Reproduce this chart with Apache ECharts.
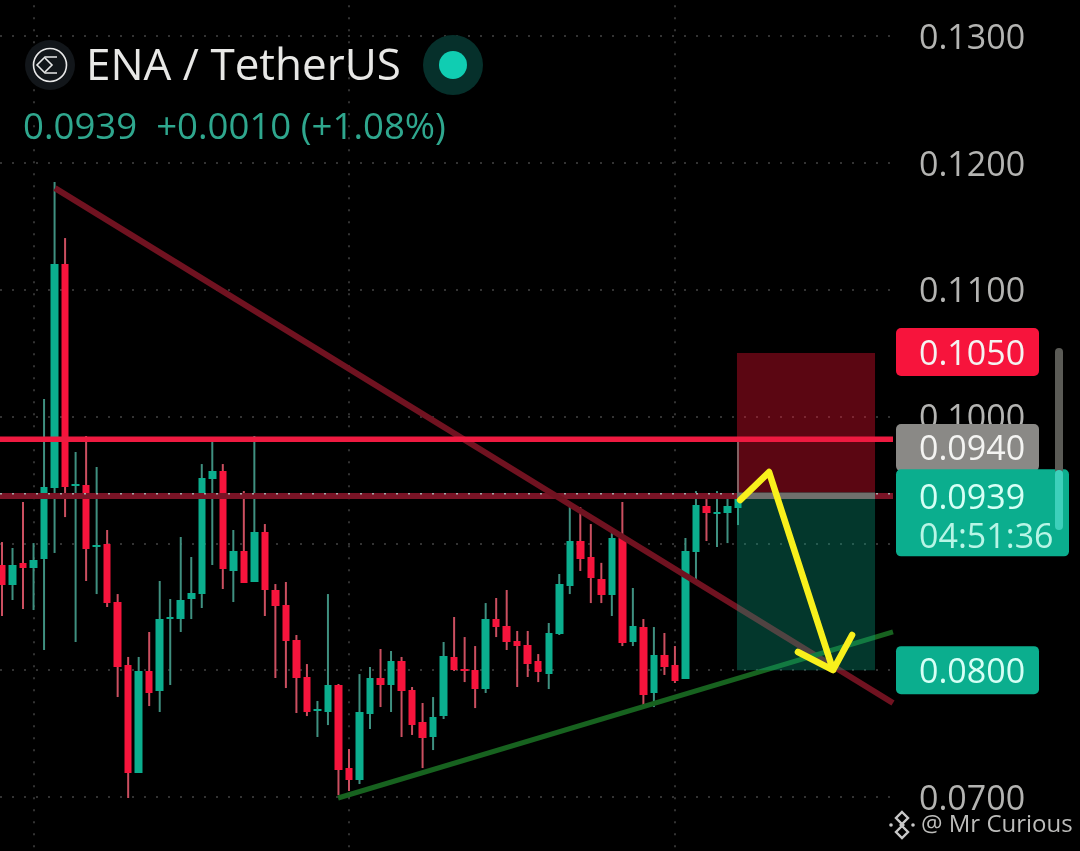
<!DOCTYPE html>
<html>
<head>
<meta charset="utf-8">
<style>html,body{margin:0;padding:0;background:#000}#c{width:1080px;height:851px}</style>
<script src="https://cdn.jsdelivr.net/npm/echarts@6/dist/echarts.min.js"></script>
</head>
<body>
<div id="c"></div>
<script>
const opens  = [.08829,.08671,.08845,.08805,.08876,.09436,.11202,.09452,.09460,.08971,.08995,.08537,.08040,.07189,.07993,.07835,.08403,.08403,.08561,.08600,.09507,.09570,.08782,.08939,.08695,.09089,.08632,.08513,.08238,.07946,.07678,.07670,.07883,.07228,.07134,.07654,.07938,.07883,.08072,.07843,.07591,.07473,.07638,.08104,.08009,.08001,.07851,.08403,.08348,.08230,.08198,.08072,.07969,.08285,.08663,.09018,.08892,.08718,.08592,.09042,.08222,.08340,.07820,.08119,.08040,.07930,.08931,.09294,.09231,.09239,.09278];
const closes = [.08671,.08829,.08805,.08868,.09444,.11202,.09444,.09468,.08955,.08987,.08529,.08025,.07189,.07993,.07820,.08403,.08419,.08553,.08608,.09515,.09570,.08797,.08939,.08687,.09089,.08632,.08506,.08230,.07938,.07670,.07693,.07883,.07213,.07134,.07670,.07938,.07883,.08072,.07835,.07567,.07465,.07630,.08111,.08001,.07993,.07851,.08403,.08340,.08222,.08190,.08048,.07985,.08293,.08679,.09018,.08876,.08726,.08592,.09042,.08214,.08348,.07804,.08119,.08025,.07914,.08939,.09302,.09239,.09247,.09294,.09397];
const lows   = [.08427,.08553,.08482,.08474,.08159,.08924,.09207,.08222,.08703,.08600,.08498,.07788,.06992,.07189,.07717,.07670,.07883,.08301,.08403,.08490,.08829,.08640,.08537,.08687,.08695,.08427,.07938,.07859,.07662,.07638,.07473,.07567,.07015,.07047,.07102,.07536,.07709,.07670,.07473,.07489,.07228,.07370,.07615,.07993,.07906,.07701,.07820,.08261,.08159,.07867,.07946,.07906,.07851,.08277,.08600,.08782,.08529,.08529,.08427,.08190,.08190,.07701,.07709,.07962,.07899,.07930,.08695,.09018,.08971,.09002,.09144];
const highs  = [.09010,.08963,.09326,.09002,.10138,.11849,.11407,.09720,.09846,.09602,.09105,.08600,.08104,.08104,.08301,.08703,.08561,.09050,.08892,.09625,.09838,.09625,.09105,.09412,.09846,.09152,.08679,.08695,.08277,.08048,.07757,.08600,.07891,.07378,.07969,.08025,.08167,.08151,.08104,.07867,.07741,.07788,.08222,.08419,.08261,.08190,.08529,.08569,.08632,.08309,.08309,.08127,.08372,.08758,.09302,.09286,.09152,.08846,.09105,.09326,.08648,.08403,.08340,.08293,.08190,.09042,.09412,.09349,.09412,.09397,.09815];
const candles = opens.map((o,i)=>[i,o,closes[i],lows[i],highs[i]]);

const xMin = -0.19, xMax = 84.74;
const monthTicks = [3,33,64];
const resistanceLine = [[xMin,.0982],[xMax,.0982]];
const priceBand  = [[xMin,.09373],[xMax,.09373]];
const priceDots  = [[xMin,.0939],[xMax,.0939]];
const bearTrend  = [[5.04,.11801],[xMax,.07741]];
const bullTrend  = [[31.96,.06992],[xMax,.08301]];
const arrowPath  = [[70.2,.09341],[72.95,.09562],[79.04,.08001],[75.7,.08143],[79.04,.08001],[80.85,.08277]];
const zones = [[69.9,83.03,.1050,.0940],[69.9,83.03,.0940,.0935],[69.9,83.03,.0935,.0800]];
const zoneFill = ['rgba(247,16,50,0.37)','#6f6f6c','rgba(10,176,143,0.31)'];
const tagPrices = [.1050,.0940,.0939,.0800];
const tagLabels = ['0.1050','0.0940','0.0939','0.0800'];
const tagFill = ['#f7143c','#8a8986','#0bae8e','#0bae8e'];
const tagShift = [-1,-45,19,0];
const tagW = [143,143,173,143];
const tagH = [48,47,87,48];
const countdown = '04:51:36';

const UP='#0bae8e', DOWN='#f7143c', UPW='#3f9080', DOWNW='#cb4f60';
const font='"Open Sans"';
const chart = echarts.init(document.getElementById('c'),null,{renderer:'canvas'});
const lineS=(data,color,width,z,extra)=>Object.assign({type:'line',data,showSymbol:false,symbol:'none',silent:true,z,animation:false,
  lineStyle:Object.assign({color,width},extra||{})});

chart.setOption({
  backgroundColor:'#000',
  animation:false,
  title:[
    {text:'ENA / TetherUS',left:81,top:40,textStyle:{color:'#e8e8e6',fontFamily:font,fontWeight:400,fontSize:44}},
    {text:'0.0939  +0.0010 (+1.08%)',left:18,top:105,textStyle:{color:'#2fa78e',fontFamily:font,fontWeight:400,fontSize:36.6}}
  ],
  grid:{left:0,width:893,top:-90.8,height:1014.6,containLabel:false,outerBoundsMode:'none'},
  xAxis:{type:'value',min:xMin,max:xMax,
    axisLine:{show:false},axisLabel:{show:false},
    axisTick:{show:false,customValues:monthTicks},
    splitLine:{show:true,lineStyle:{color:'#444',type:[2,10],width:1.5}}},
  yAxis:{type:'value',position:'right',min:.06,max:.14,interval:.01,
    axisLine:{show:false},axisTick:{show:false},
    axisLabel:{color:'#b4b4b2',fontFamily:font,fontSize:34,margin:26,verticalAlign:'top',lineHeight:6,formatter:v=>v.toFixed(4)},
    splitLine:{show:true,lineStyle:{color:'#444',type:[2,10],width:1.5}}},
  graphic:[
    {type:'circle',shape:{cx:50,cy:65,r:25},style:{fill:'#12161a'},z:20},
    {type:'circle',shape:{cx:50,cy:65,r:16.5},style:{fill:'none',stroke:'#e8e8e8',lineWidth:1.6},z:21},
    {type:'polyline',shape:{points:[[57,57],[45,57],[37,65],[45,73],[57,73]]},style:{fill:'none',stroke:'#e8e8e8',lineWidth:1.6},z:21},
    {type:'polyline',shape:{points:[[45,58],[52,65],[45,72]]},style:{fill:'none',stroke:'#e8e8e8',lineWidth:1.6},z:21},
    {type:'circle',shape:{cx:453,cy:65,r:30},style:{fill:'#06302b'},z:20},
    {type:'circle',shape:{cx:453,cy:65,r:14},style:{fill:'#10cdb2'},z:21},
    {type:'rect',shape:{x:1055,y:348,width:8,height:125,r:4},style:{fill:'#5b5b56'},z:30},
    {type:'rect',shape:{x:1055,y:470,width:8,height:60,r:4},style:{fill:'#3dd0bb'},z:31},
    {type:'polygon',shape:{points:[[902,812],[908,818],[902,824],[896,818]]},style:{fill:'none',stroke:'#c8c8c8',lineWidth:2.4},z:30},
    {type:'polygon',shape:{points:[[902,826],[908,832],[902,838],[896,832]]},style:{fill:'none',stroke:'#c8c8c8',lineWidth:2.4},z:30},
    {type:'polygon',shape:{points:[[902,822],[905,825],[902,828],[899,825]]},style:{fill:'#c8c8c8'},z:30},
    {type:'circle',shape:{cx:891,cy:825,r:1.8},style:{fill:'#c8c8c8'},z:30},
    {type:'circle',shape:{cx:913,cy:825,r:1.8},style:{fill:'#c8c8c8'},z:30},
    {type:'text',x:921,y:825,style:{text:'@ Mr Curious',fill:'#bdbdbb',font:'24px '+font,verticalAlign:'middle'},z:30}
  ],
  series:[
    {type:'custom',name:'wicks',data:candles,z:2,silent:true,clip:true,encode:{x:0,y:[1,2,3,4]},
      renderItem(p,api){
        const i=api.value(0),o=api.value(1),c=api.value(2),l=api.value(3),h=api.value(4);
        const stroke=c>o?UPW:DOWNW, top=api.coord([i,Math.max(o,c)]), bot=api.coord([i,Math.min(o,c)]);
        const hi=api.coord([i,h]), lo=api.coord([i,l]);
        return {type:'group',children:[
          {type:'line',shape:{x1:hi[0],y1:hi[1],x2:top[0],y2:top[1]},style:{stroke,lineWidth:2}},
          {type:'line',shape:{x1:bot[0],y1:bot[1],x2:lo[0],y2:lo[1]},style:{stroke,lineWidth:2}}
        ]};
      }},
    {type:'candlestick',name:'body',data:candles,barWidth:8,z:3,silent:true,
      itemStyle:{color:UP,color0:DOWN,borderWidth:0,borderColor:'transparent',borderColor0:'transparent'}},
    lineS(priceBand,'#7a1426',6,4),
    lineS(priceDots,'#a8a8a8',1.5,5,{type:[2,10]}),
    lineS(bearTrend,'#701220',6,6),
    lineS(bullTrend,'#17621f',5,6),
    {type:'custom',name:'zones',data:zones,z:7,silent:true,clip:true,encode:{x:[0,1],y:[2,3]},
      renderItem(p,api){
        const a=api.coord([api.value(0),api.value(2)]),b=api.coord([api.value(1),api.value(3)]);
        return {type:'rect',shape:{x:a[0],y:a[1],width:b[0]-a[0],height:b[1]-a[1]},style:{fill:zoneFill[p.dataIndex]}};
      }},
    lineS(resistanceLine,'#ee1a40',5.5,8),
    lineS(arrowPath,'#f8f01c',6.5,9,{join:'round',cap:'round'}),
    {type:'custom',name:'tags',data:tagPrices.map(v=>[xMin,v]),z:10,silent:true,clip:false,encode:{x:0,y:1},
      renderItem(p,api){
        const i=p.dataIndex, cy=api.coord([api.value(0),api.value(1)])[1]+tagShift[i];
        const kids=[{type:'rect',shape:{x:896,y:cy-tagH[i]/2,width:tagW[i],height:tagH[i],r:5},style:{fill:tagFill[i]}}];
        const light=i===1||i===0?'#f4f4f2':'#d6fff5';
        if(i===2){
          kids.push({type:'text',x:919,y:cy-14,style:{text:tagLabels[i],fill:light,font:'34px '+font,verticalAlign:'middle'}});
          kids.push({type:'text',x:919,y:cy+25,style:{text:countdown,fill:'#b8f5e6',font:'34px '+font,verticalAlign:'middle'}});
        }else{
          kids.push({type:'text',x:919,y:cy+3,style:{text:tagLabels[i],fill:light,font:'34px '+font,verticalAlign:'middle'}});
        }
        return {type:'group',children:kids};
      }}
  ]
});
</script>
</body>
</html>
